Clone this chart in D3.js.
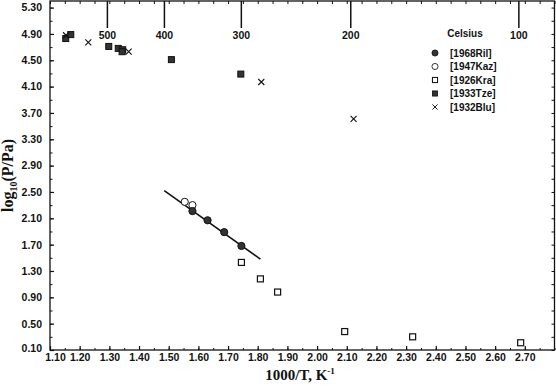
<!DOCTYPE html>
<html>
<head>
<meta charset="utf-8">
<script src="https://cdn.jsdelivr.net/npm/d3@7"></script>
<style>
  html, body { margin: 0; padding: 0; background: #fff; }
  svg text { font-family: "Liberation Sans", Arial, sans-serif; }
</style>
</head>
<body>
<div class="vaporChart"></div>
<script>
// data: x = 1000/T (K^-1), y = log10(P/Pa)
const rilX = [1.580, 1.631, 1.687, 1.745]
const rilY = [2.21, 2.07, 1.89, 1.68]
const kazX = [1.554, 1.580]
const kazY = [2.35, 2.30]
const kraX = [1.745, 1.809, 1.867, 2.093, 2.322, 2.686]
const kraY = [1.43, 1.18, 0.98, 0.38, 0.30, 0.21]
const tzeX = [1.153, 1.170, 1.298, 1.330, 1.345, 1.343, 1.509, 1.743]
const tzeY = [4.83, 4.89, 4.71, 4.68, 4.66, 4.63, 4.51, 4.29]
const bluX = [1.154, 1.229, 1.365, 1.812, 2.123]
const bluY = [4.88, 4.77, 4.63, 4.17, 3.61]
const fitX = [1.485, 1.809]
const fitY = [2.52, 1.48]

const xTicks = [1.10, 1.20, 1.30, 1.40, 1.50, 1.60, 1.70, 1.80, 1.90, 2.00, 2.10, 2.20, 2.30, 2.40, 2.50, 2.60, 2.70]
const yTicks = [0.10, 0.50, 0.90, 1.30, 1.70, 2.10, 2.50, 2.90, 3.30, 3.70, 4.10, 4.50, 4.90, 5.30]
const celsiusTicks = [500, 400, 300, 200, 100]

const legendNames = ['[1968Ril]', '[1947Kaz]', '[1926Kra]', '[1933Tze]', '[1932Blu]']
const legendSymbols = ['filledCircle', 'openCircle', 'openSquare', 'filledSquare', 'cross']

const width = 556, height = 386
const margin = { top: 1, right: 1.5, bottom: 36, left: 50 }

const svg = d3.select('.vaporChart')
    .append('svg')
    .attr('width', width)
    .attr('height', height)

const x = d3.scaleLinear()
    .domain([1.10, 2.80])
    .range([margin.left, width - margin.right])

const y = d3.scaleLinear()
    .domain([0.10, 5.40])
    .range([height - margin.bottom, margin.top])

const fmt = d3.format('.2f')
const minorX = d3.range(1.10, 2.801, 0.05)
const minorY = d3.range(0.10, 5.401, 0.2)

// frame
svg.append('rect')
    .attr('x', x(1.10))
    .attr('y', y(5.40))
    .attr('width', x(2.80) - x(1.10))
    .attr('height', y(0.10) - y(5.40))
    .attr('fill', 'none')
    .attr('stroke', '#111')
    .attr('stroke-width', 1.3)

// bottom axis
const xAxis = svg.append('g')
    .attr('transform', `translate(0,${y(0.10)})`)
    .call(d3.axisBottom(x).tickValues(minorX).tickSize(-2).tickFormat(''))
xAxis.select('.domain').remove()
xAxis.selectAll('line').attr('stroke', '#111')

const xLabels = svg.append('g')
    .attr('transform', `translate(0,${y(0.10)})`)
    .call(d3.axisBottom(x).tickValues(xTicks).tickSize(-4).tickPadding(4).tickFormat(fmt))
xLabels.select('.domain').remove()
xLabels.selectAll('line').attr('stroke', '#111').attr('stroke-width', 1.2)
xLabels.selectAll('text')
    .attr('font-size', 10.5)
    .attr('font-weight', 'bold')
    .attr('fill', '#111')
    .attr('dx', d => d === 1.10 ? 5 : 0)

// top axis, same spacing as bottom
const xTop = svg.append('g')
    .attr('transform', `translate(0,${y(5.40)})`)
    .call(d3.axisTop(x).tickValues(minorX).tickSize(-3).tickFormat(''))
xTop.select('.domain').remove()
xTop.selectAll('line').attr('stroke', '#111')

// celsius ticks
const celsius = svg.append('g')
    .selectAll('g')
    .data(celsiusTicks)
    .join('g')
    .attr('transform', d => `translate(${x(1000 / (d + 273.15))},${y(5.40)})`)
celsius.append('line')
    .attr('y2', 27)
    .attr('stroke', '#111')
    .attr('stroke-width', 1.5)
celsius.append('text')
    .attr('y', 38)
    .attr('text-anchor', 'middle')
    .attr('font-size', 10.5)
    .attr('font-weight', 'bold')
    .attr('fill', '#111')
    .text(d => d)

// left axis
const yAxis = svg.append('g')
    .attr('transform', `translate(${x(1.10)},0)`)
    .call(d3.axisLeft(y).tickValues(minorY).tickSize(-2.5).tickFormat(''))
yAxis.select('.domain').remove()
yAxis.selectAll('line').attr('stroke', '#111')

const yLabels = svg.append('g')
    .attr('transform', `translate(${x(1.10)},0)`)
    .call(d3.axisLeft(y).tickValues(yTicks).tickSize(-4).tickPadding(8).tickFormat(fmt))
yLabels.select('.domain').remove()
yLabels.selectAll('line').attr('stroke', '#111').attr('stroke-width', 1.2)
yLabels.selectAll('text')
    .attr('font-size', 10.5)
    .attr('font-weight', 'bold')
    .attr('fill', '#111')
    .attr('dy', d => d === 0.10 ? '0.1em' : '0.32em')

// right axis
const yRight = svg.append('g')
    .attr('transform', `translate(${x(2.80)},0)`)
    .call(d3.axisRight(y).tickValues(minorY).tickSize(-3).tickFormat(''))
yRight.select('.domain').remove()
yRight.selectAll('line').attr('stroke', '#111')

// axis titles
const xTitle = svg.append('text')
    .attr('x', 300)
    .attr('y', 380)
    .attr('text-anchor', 'middle')
    .style('font-family', '"Liberation Serif", "Times New Roman", serif')
    .attr('font-size', 15)
    .attr('font-weight', 'bold')
    .attr('fill', '#111')
xTitle.append('tspan').text('1000/T, K')
xTitle.append('tspan').attr('dy', -6).attr('font-size', 9).text('-1')

const yTitle = svg.append('text')
    .attr('transform', `translate(13,${(y(0.10) + y(5.40)) / 2}) rotate(-90)`)
    .attr('text-anchor', 'middle')
    .style('font-family', '"Liberation Serif", "Times New Roman", serif')
    .attr('font-size', 16)
    .attr('font-weight', 'bold')
    .attr('fill', '#111')
yTitle.append('tspan').text('log')
yTitle.append('tspan').attr('dy', 4).attr('font-size', 10).text('10')
yTitle.append('tspan').attr('dy', -4).text('(P/Pa)')

// symbols
const drawSymbol = (g, type) => {
    if (type === 'filledCircle') {
        g.append('circle').attr('r', 3.6).attr('fill', '#333').attr('stroke', '#111').attr('stroke-width', 1)
    } else if (type === 'openCircle') {
        g.append('circle').attr('r', 3.6).attr('fill', '#fff').attr('stroke', '#111').attr('stroke-width', 1)
    } else if (type === 'openSquare') {
        g.append('rect').attr('x', -3).attr('y', -3).attr('width', 6).attr('height', 6)
            .attr('fill', '#fff').attr('stroke', '#111').attr('stroke-width', 1.2)
    } else if (type === 'filledSquare') {
        g.append('rect').attr('x', -3).attr('y', -3).attr('width', 6).attr('height', 6)
            .attr('fill', '#333').attr('stroke', '#111').attr('stroke-width', 1)
    } else {
        g.append('path').attr('d', 'M-3,-3L3,3M-3,3L3,-3')
            .attr('stroke', '#111').attr('stroke-width', 1.1).attr('fill', 'none')
    }
}

// fit line
svg.append('path')
    .datum(d3.zip(fitX, fitY))
    .attr('d', d3.line().x(d => x(d[0])).y(d => y(d[1])))
    .attr('stroke', '#111')
    .attr('stroke-width', 1.6)
    .attr('fill', 'none')

const series = [
    [kraX, kraY, 'openSquare'],
    [tzeX, tzeY, 'filledSquare'],
    [bluX, bluY, 'cross'],
    [kazX, kazY, 'openCircle'],
    [rilX, rilY, 'filledCircle']
]

series.forEach(([xs, ys, type]) => {
    svg.append('g')
        .selectAll('g')
        .data(d3.zip(xs, ys))
        .join('g')
        .attr('transform', d => `translate(${x(d[0])},${y(d[1])})`)
        .each(function () { drawSymbol(d3.select(this), type) })
})

// legend
svg.append('text')
    .attr('x', 465)
    .attr('y', 37)
    .attr('text-anchor', 'middle')
    .attr('font-size', 10)
    .attr('font-weight', 'bold')
    .attr('fill', '#111')
    .text('Celsius')

const legend = svg.append('g')
    .selectAll('g')
    .data(legendNames)
    .join('g')
    .attr('transform', (d, i) => `translate(435,${53 + i * 13.5})`)
legend.each(function (d, i) {
    const g = d3.select(this).append('g').attr('transform', 'scale(0.85)')
    drawSymbol(g, legendSymbols[i])
})
legend.append('text')
    .attr('x', 15)
    .attr('dy', '0.35em')
    .attr('font-size', 10)
    .attr('font-weight', 'bold')
    .attr('fill', '#111')
    .text(d => d)
</script>
</body>
</html>
